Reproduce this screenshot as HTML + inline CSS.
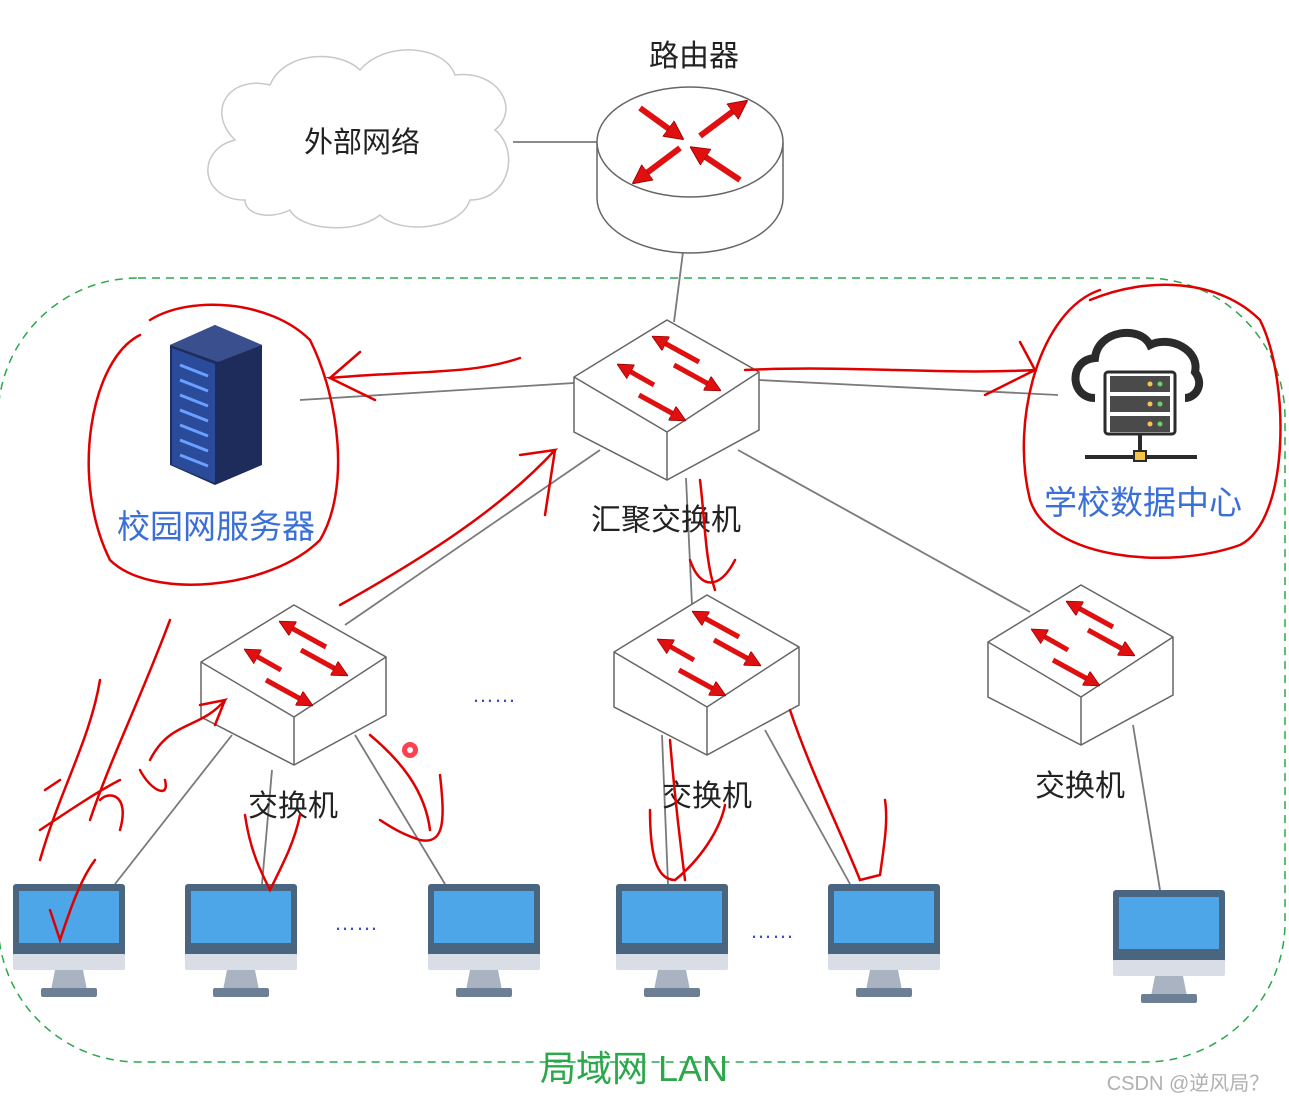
<!DOCTYPE html>
<html><head><meta charset="utf-8"><style>
html,body{margin:0;padding:0;background:#fff;}
svg{display:block;}
text{font-family:"Liberation Sans","Noto Sans CJK SC",sans-serif;}
</style></head><body>
<svg width="1289" height="1103" viewBox="0 0 1289 1103" xmlns="http://www.w3.org/2000/svg">
<defs>
<marker id="ah" viewBox="0 0 10 10" refX="5" refY="5" markerWidth="3.2" markerHeight="3.2" orient="auto"><path d="M0,0L10,5L0,10z" fill="#e01010" stroke="#900" stroke-width="0.5"/></marker>
<g id="sw">
<path d="M93,0 L185,52 L185,110 L93,160 L0,112 L0,57 Z" fill="#fff" stroke="#666" stroke-width="1.5"/>
<path d="M0,57 L93,112 L185,52 M93,112 L93,160" fill="none" stroke="#666" stroke-width="1.5"/>
<g stroke="#e01010" stroke-width="5" fill="none" stroke-linecap="butt">
<line x1="125" y1="42" x2="85" y2="20" marker-end="url(#ah)"/>
<line x1="100" y1="45" x2="140" y2="67" marker-end="url(#ah)"/>
<line x1="80" y1="65" x2="50" y2="48" marker-end="url(#ah)"/>
<line x1="65" y1="75" x2="105" y2="97" marker-end="url(#ah)"/>
</g>
</g>
<g id="mon">
<rect x="0" y="0" width="112" height="72" rx="3" fill="#4a6580"/>
<rect x="6" y="7" width="100" height="52" fill="#4da6e8"/>
<rect x="0" y="70" width="112" height="16" rx="2" fill="#d8dde6"/>
<path d="M42,86 L70,86 L74,106 L38,106 Z" fill="#a9b3c1"/>
<rect x="28" y="104" width="56" height="9" rx="2" fill="#6d7f95"/>
</g>
</defs>

<rect x="-2" y="278" width="1287" height="784" rx="140" ry="140" fill="none" stroke="#2aa84a" stroke-width="1.5" stroke-dasharray="8,6"/>

<path d="M245,200 C200,200 195,150 235,140 C205,110 230,75 270,85 C285,50 340,50 360,70 C385,40 445,45 455,75 C500,70 520,110 495,130 C520,150 510,200 470,200 C460,230 400,235 380,215 C355,235 300,230 290,210 C270,220 245,215 245,200 Z" fill="#fff" stroke="#c8c8c8" stroke-width="1.5"/>
<text x="362" y="152" font-size="29" text-anchor="middle" fill="#222">外部网络</text>

<g stroke="#7a7a7a" stroke-width="1.8" fill="none">
<line x1="513" y1="142" x2="597" y2="142"/>
<line x1="683" y1="252" x2="674" y2="322"/>
<line x1="300" y1="400" x2="574" y2="383"/>
<line x1="758" y1="380" x2="1058" y2="395"/>
<line x1="600" y1="450" x2="345" y2="625"/>
<line x1="686" y1="478" x2="692" y2="605"/>
<line x1="738" y1="450" x2="1030" y2="612"/>
<line x1="232" y1="735" x2="115" y2="884"/>
<line x1="272" y1="770" x2="262" y2="884"/>
<line x1="355" y1="735" x2="445" y2="884"/>
<line x1="662" y1="735" x2="668" y2="884"/>
<line x1="765" y1="730" x2="850" y2="884"/>
<line x1="1133" y1="725" x2="1160" y2="890"/>
</g>

<path d="M597,142 L597,198 A93,55 0 0 0 783,198 L783,142" fill="#fff" stroke="#666" stroke-width="1.5"/>
<ellipse cx="690" cy="142" rx="93" ry="55" fill="#fff" stroke="#666" stroke-width="1.5"/>
<g stroke="#e01010" stroke-width="6" fill="none">
<line x1="640" y1="108" x2="676" y2="134" marker-end="url(#ah)"/>
<line x1="700" y1="136" x2="740" y2="106" marker-end="url(#ah)"/>
<line x1="680" y1="148" x2="640" y2="178" marker-end="url(#ah)"/>
<line x1="740" y1="180" x2="698" y2="152" marker-end="url(#ah)"/>
</g>
<text x="694" y="66" font-size="30" text-anchor="middle" fill="#222">路由器</text>

<use href="#sw" x="574" y="320"/>
<use href="#sw" x="201" y="605"/>
<use href="#sw" x="614" y="595"/>
<use href="#sw" x="988" y="585"/>

<path d="M170,345 L215,325 L262,345 L262,465 L215,485 L170,465 Z" fill="#1d2c5a"/>
<path d="M170,345 L215,325 L262,345 L218,362 Z" fill="#3a4f8e"/>
<path d="M172,348 L215,364 L215,483 L172,465 Z" fill="#2a4a9a"/>
<g stroke="#6aa0ff" stroke-width="3">
<line x1="180" y1="365" x2="208" y2="376"/><line x1="180" y1="380" x2="208" y2="391"/>
<line x1="180" y1="395" x2="208" y2="406"/><line x1="180" y1="410" x2="208" y2="421"/>
<line x1="180" y1="425" x2="208" y2="436"/><line x1="180" y1="440" x2="208" y2="451"/>
<line x1="180" y1="455" x2="208" y2="466"/>
</g>
<text x="216" y="538" font-size="33" text-anchor="middle" fill="#3a6fd8">校园网服务器</text>

<path d="M1095,398 C1070,398 1068,360 1095,358 C1098,330 1140,325 1150,345 C1170,335 1200,350 1195,372 C1205,385 1195,398 1185,398" fill="#fff" stroke="#2b2b2b" stroke-width="8"/>
<rect x="1105" y="372" width="70" height="62" rx="3" fill="#fff" stroke="#2b2b2b" stroke-width="3"/>
<rect x="1110" y="376" width="60" height="16" fill="#4a4a4a"/>
<rect x="1110" y="396" width="60" height="16" fill="#4a4a4a"/>
<rect x="1110" y="416" width="60" height="16" fill="#4a4a4a"/>
<g fill="#f3c64b"><circle cx="1150" cy="384" r="2.5"/><circle cx="1150" cy="404" r="2.5"/><circle cx="1150" cy="424" r="2.5"/></g>
<g fill="#6bd16b"><circle cx="1160" cy="384" r="2.5"/><circle cx="1160" cy="404" r="2.5"/><circle cx="1160" cy="424" r="2.5"/></g>
<line x1="1140" y1="434" x2="1140" y2="455" stroke="#2b2b2b" stroke-width="4"/>
<line x1="1085" y1="457" x2="1197" y2="457" stroke="#2b2b2b" stroke-width="4"/>
<rect x="1134" y="451" width="12" height="10" fill="#f3c64b" stroke="#2b2b2b" stroke-width="2"/>
<text x="1143" y="514" font-size="33" text-anchor="middle" fill="#3a6fd8">学校数据中心</text>

<text x="666" y="530" font-size="30" text-anchor="middle" fill="#222">汇聚交换机</text>
<text x="293" y="816" font-size="30" text-anchor="middle" fill="#222">交换机</text>
<text x="707" y="806" font-size="30" text-anchor="middle" fill="#222">交换机</text>
<text x="1080" y="796" font-size="30" text-anchor="middle" fill="#222">交换机</text>
<g fill="#3a50c8" font-size="22"><text x="472" y="702">……</text><text x="334" y="930">……</text><text x="750" y="938">……</text></g>

<use href="#mon" x="13" y="884"/>
<use href="#mon" x="185" y="884"/>
<use href="#mon" x="428" y="884"/>
<use href="#mon" x="616" y="884"/>
<use href="#mon" x="828" y="884"/>
<use href="#mon" x="1113" y="890"/>

<text x="634" y="1081" font-size="36" text-anchor="middle" fill="#2aa84a">局域网 LAN</text>
<text x="1188" y="1090" font-size="20" text-anchor="middle" fill="#b0b0b0">CSDN @逆风局？</text>

<g stroke="#e00000" stroke-width="2.5" fill="none" stroke-linecap="round">
<path d="M140,335 C90,360 70,480 110,560 C150,600 270,590 320,540 C350,490 340,400 310,340 C270,300 190,295 150,320"/>
<path d="M1100,290 C1040,310 1010,420 1030,500 C1050,560 1170,570 1240,545 C1290,520 1290,380 1260,320 C1220,280 1150,275 1090,300"/>
<path d="M520,358 C470,375 420,370 330,378 L375,400 M330,378 L360,352"/>
<path d="M745,370 C850,365 940,375 1035,370 L1020,342 M1035,370 L985,395"/>
<path d="M340,605 C420,560 500,510 555,450 L520,455 M555,450 L545,515"/>
<path d="M700,480 C705,520 705,560 715,590 M690,560 C700,590 720,590 735,560"/>
<path d="M170,620 C140,700 110,760 90,820 M100,680 C90,740 60,790 40,860"/>
<path d="M45,790 L60,780 M40,830 C70,810 100,790 120,780 M100,800 C110,790 130,795 120,830 M140,770 C150,790 170,800 165,780 M150,760 C170,720 200,730 225,700 L200,705 M225,700 L215,725"/>
<path d="M50,910 L60,940 C70,910 80,880 95,860"/>
<path d="M245,815 C250,850 260,870 270,890 C285,860 295,840 300,815"/>
<path d="M370,735 C400,760 425,790 430,830 M440,775 C445,820 445,845 420,840 C405,835 395,830 380,820"/>
<path d="M670,740 C675,800 680,840 685,880 M650,810 C650,850 655,880 675,880 C700,860 720,830 725,805"/>
<path d="M790,710 C810,770 840,830 860,880 L880,875 C885,840 888,820 885,800"/>
</g>
<circle cx="410" cy="750" r="8" fill="#ff2030" opacity="0.85"/>
<circle cx="410" cy="750" r="3" fill="#fff"/>
</svg>
</body></html>
